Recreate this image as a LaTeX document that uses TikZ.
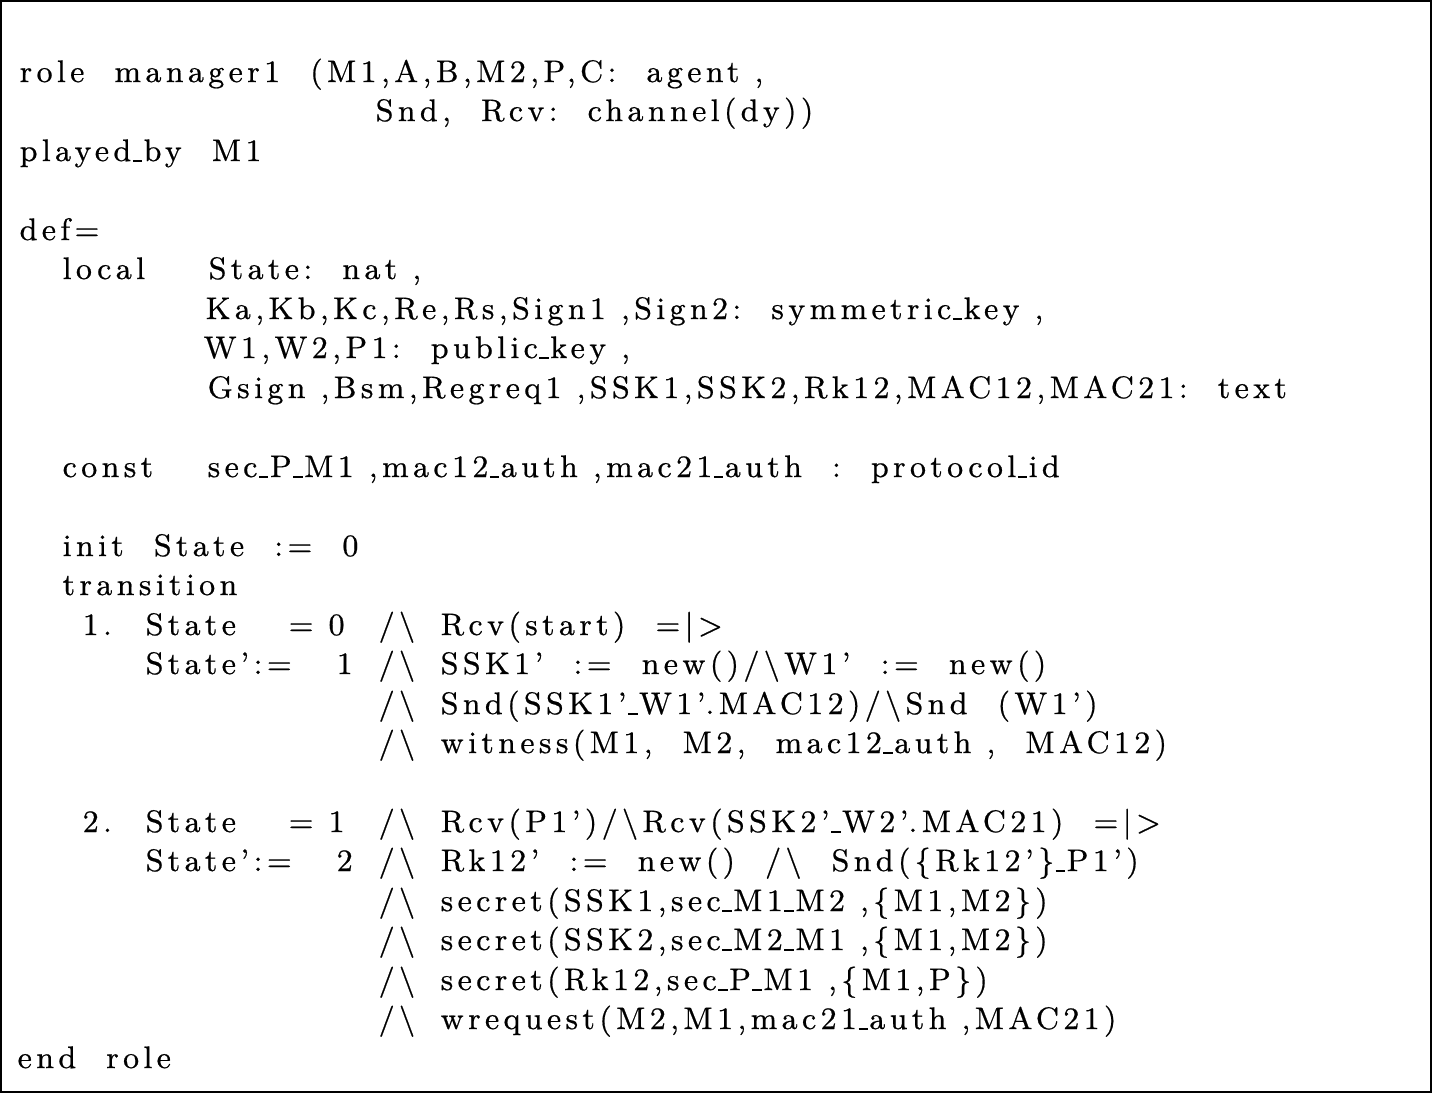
\documentclass[tikz,border=0pt]{standalone}
\usepackage{fontspec}
\setmainfont{Latin Modern Roman}[LetterSpace=14,FakeBold=0.6]
\newcommand\us{\kern0.05em\rule[-0.2pt]{0.3em}{0.5pt}\kern0.05em}
\begin{document}
\begin{tikzpicture}[x=0.01cm,y=-0.01cm,
  code/.style={anchor=base west,inner sep=0pt,font=\fontsize{8.85pt}{10pt}\selectfont}]
\useasboundingbox (0,0) rectangle (1432,1093);
\draw[line width=0.6pt] (1,1) rectangle (1431,1092);
\newcommand\cl[4]{\node[code] (#1) at (#2,#3) {#4};}
\cl{a1}{19}{82}{role\ \ manager1\ \ (M1,A,B,M2,P,C:\ \ agent ,}
\cl{a2}{375}{121}{Snd,\ \ Rcv:\ \ channel(dy))}
\cl{a3}{19}{161}{played\us by\ \ M1}
\cl{a4}{19}{240}{def=}
\cl{a5}{62}{279}{local}
\cl{a5b}{208}{279}{State:\ \ nat ,}
\cl{a6}{205}{319}{Ka,Kb,Kc,Re,Rs,Sign1 ,Sign2:\ \ symmetric\us key ,}
\cl{a7}{203}{358}{W1,W2,P1:\ \ public\us key ,}
\cl{a8}{207}{398}{Gsign ,Bsm,Regreq1 ,SSK1,SSK2,Rk12,MAC12,MAC21:\ \ text}
\cl{a9}{62}{477}{const}
\cl{a9b}{207}{477}{sec\us P\us M1 ,mac12\us auth ,mac21\us auth\ \ :\ \ protocol\us id}
\cl{a10}{62}{556}{init\ \ State\ \ :=\ \ 0}
\cl{a11}{62}{595}{transition}
\cl{b1}{82}{635}{1.}
\cl{b1s}{145}{635}{State}
\cl{b1e}{288}{635}{=\ 0}
\cl{b1a}{378}{635}{/\textbackslash}
\cl{b1r}{440}{635}{Rcv(start)\ \ =|>}
\cl{b2s}{145}{674}{State':=}
\cl{b2n}{336}{674}{1}
\cl{b2a}{378}{674}{/\textbackslash}
\cl{b2r}{440}{674}{SSK1'\ \ :=\ \ new()/\textbackslash W1'\ \ :=\ \ new()}
\cl{b3a}{378}{714}{/\textbackslash}
\cl{b3r}{440}{714}{Snd(SSK1'\us W1'.MAC12)/\textbackslash Snd\ \ (W1')}
\cl{b4a}{378}{753}{/\textbackslash}
\cl{b4r}{440}{753}{witness(M1,\ \ M2,\ \ mac12\us auth ,\ \ MAC12)}
\cl{c1}{82}{832}{2.}
\cl{c1s}{145}{832}{State}
\cl{c1e}{288}{832}{=\ 1}
\cl{c1a}{378}{832}{/\textbackslash}
\cl{c1r}{440}{832}{Rcv(P1')/\textbackslash Rcv(SSK2'\us W2'.MAC21)\ \ =|>}
\cl{c2s}{145}{871}{State':=}
\cl{c2n}{336}{871}{2}
\cl{c2a}{378}{871}{/\textbackslash}
\cl{c2r}{440}{871}{Rk12'\ \ :=\ \ new()\ \ /\textbackslash\ \ Snd(\{Rk12'\}\us P1')}
\cl{c3a}{378}{911}{/\textbackslash}
\cl{c3r}{440}{911}{secret(SSK1,sec\us M1\us M2 ,\{M1,M2\})}
\cl{c4a}{378}{950}{/\textbackslash}
\cl{c4r}{440}{950}{secret(SSK2,sec\us M2\us M1 ,\{M1,M2\})}
\cl{c5a}{378}{990}{/\textbackslash}
\cl{c5r}{440}{990}{secret(Rk12,sec\us P\us M1 ,\{M1,P\})}
\cl{c6a}{378}{1029}{/\textbackslash}
\cl{c6r}{440}{1029}{wrequest(M2,M1,mac21\us auth ,MAC21)}
\cl{d1}{17}{1068}{end\ \ role}
\end{tikzpicture}
\end{document}
